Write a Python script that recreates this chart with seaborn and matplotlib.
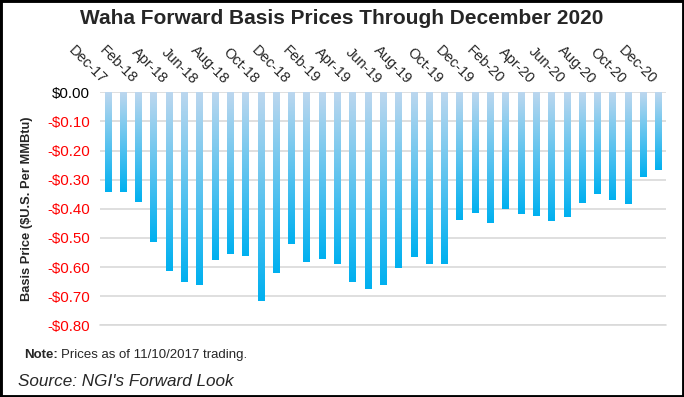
import numpy as np
import pandas as pd
import matplotlib
matplotlib.use("Agg")
import matplotlib.pyplot as plt
import seaborn as sns
from matplotlib.colors import LinearSegmentedColormap
from matplotlib.patches import Rectangle
from matplotlib.transforms import ScaledTranslation

months = ["Dec-17", "Jan-18", "Feb-18", "Mar-18", "Apr-18", "May-18", "Jun-18", "Jul-18",
          "Aug-18", "Sep-18", "Oct-18", "Nov-18", "Dec-18", "Jan-19", "Feb-19", "Mar-19",
          "Apr-19", "May-19", "Jun-19", "Jul-19", "Aug-19", "Sep-19", "Oct-19", "Nov-19",
          "Dec-19", "Jan-20", "Feb-20", "Mar-20", "Apr-20", "May-20", "Jun-20", "Jul-20",
          "Aug-20", "Sep-20", "Oct-20", "Nov-20", "Dec-20"]
prices = [-0.343, -0.343, -0.377, -0.515, -0.615, -0.653, -0.663, -0.577, -0.556, -0.563,
          -0.715, -0.622, -0.522, -0.581, -0.571, -0.588, -0.653, -0.674, -0.660, -0.602,
          -0.567, -0.588, -0.588, -0.439, -0.415, -0.450, -0.401, -0.419, -0.426, -0.443,
          -0.429, -0.381, -0.350, -0.371, -0.384, -0.291, -0.267]
y_ticks = [0.0, -0.1, -0.2, -0.3, -0.4, -0.5, -0.6, -0.7, -0.8]

sns.set_style("white")
plt.rcParams["font.family"] = ["Liberation Sans", "DejaVu Sans"]

df = pd.DataFrame({"month": months, "price": prices})

fig = plt.figure(figsize=(6.84, 3.97), dpi=100)
ax = fig.add_axes([100 / 684, 1 - 325.3 / 397, 566 / 684, (325.3 - 92.3) / 397])

sns.barplot(data=df, x="month", y="price", color="#00B0F0", width=0.4, ax=ax, zorder=2)

cmap = LinearSegmentedColormap.from_list("g", ["#BDD7EE", "#00B0F0"])
grad = np.linspace(0, 1, 256).reshape(-1, 1)
for p in ax.patches:
    x0 = p.get_x()
    w = p.get_width()
    y0 = p.get_y()
    h = p.get_height()
    top = max(y0, y0 + h)
    bot = min(y0, y0 + h)
    ax.imshow(grad, cmap=cmap, aspect="auto", extent=(x0, x0 + w, bot, top),
              origin="upper", zorder=3, interpolation="bilinear")
    p.set_alpha(0)

ax.set_xlim(-0.5, len(months) - 0.5)
ax.set_ylim(-0.8, 0.0)
ax.set_yticks(y_ticks)
ylabels = ["$0.00" if v == 0 else "-${:.2f}".format(abs(v)) for v in y_ticks]
ax.set_yticklabels(ylabels, fontsize=10.8)
for lbl, v in zip(ax.get_yticklabels(), y_ticks):
    lbl.set_color("black" if v == 0 else "#FF0000")
ax.tick_params(axis="y", length=0, pad=7)

ax.yaxis.grid(True, color="#D9D9D9", linewidth=1.2, zorder=0)
ax.xaxis.grid(False)
ax.set_axisbelow(True)
for s in ax.spines.values():
    s.set_visible(False)
ax.axhline(-0.8, color="#D9D9D9", linewidth=1.2, zorder=0, clip_on=False)

ax.xaxis.tick_top()
pos = list(range(0, len(months), 2))
ax.set_xticks(pos)
ax.set_xticklabels([months[i] for i in pos], rotation=-45, ha="right", va="center",
                   rotation_mode="anchor", fontsize=10.5)
ax.tick_params(axis="x", length=0, pad=5)
shift = ScaledTranslation(-4 / 100, 4 / 100, fig.dpi_scale_trans)
for lbl in ax.get_xticklabels():
    lbl.set_transform(lbl.get_transform() + shift)
ax.set_xlabel("")
ax.set_ylabel("Basis Price ($U.S. Per MMBtu)", fontsize=9.3, fontweight="bold")
ax.yaxis.set_label_coords((33 - 100) / 566, 0.5)

fig.text(0.5, 1 - 19 / 397, "Waha Forward Basis Prices Through December 2020",
         ha="center", va="center", fontsize=15, fontweight="bold")
fig.text(24 / 684, 1 - 355 / 397, "Note:", ha="left", va="center", fontsize=9.5, fontweight="bold")
fig.text(61 / 684, 1 - 355 / 397, "Prices as of 11/10/2017 trading.", ha="left", va="center", fontsize=9.5)
fig.text(18 / 684, 1 - 381 / 397, "Source: NGI's Forward Look", ha="left", va="center",
         fontsize=12.3, style="italic")

fig.patches.append(Rectangle((0, 0), 1, 1, transform=fig.transFigure, fill=False,
                             edgecolor="black", linewidth=3.5, zorder=10))

fig.savefig("out.png", dpi=100)
